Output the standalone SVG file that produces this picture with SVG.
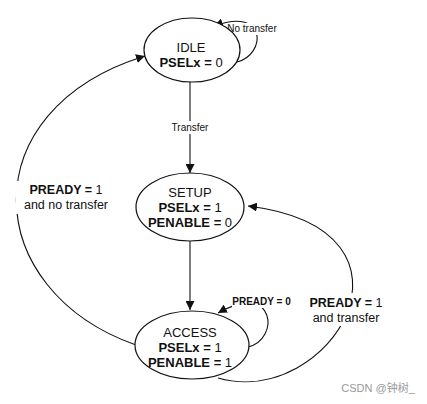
<svg xmlns="http://www.w3.org/2000/svg" width="427" height="404" viewBox="0 0 427 404">
<style>
.st{fill:#fff;stroke:#111;stroke-width:1.2}
.t{font-family:"Liberation Sans",Arial,sans-serif;font-size:13px;fill:#111;text-anchor:middle}
.l{font-family:"Liberation Sans",Arial,sans-serif;font-size:12.5px;fill:#111;text-anchor:middle}
.b{font-weight:bold}
.s{font-family:"Liberation Sans",Arial,sans-serif;font-size:10px;fill:#111;text-anchor:middle}
.c{fill:none;stroke:#111;stroke-width:1.1}
</style>
<defs>
<marker id="ah" viewBox="0 0 10 10" refX="10" refY="5" markerWidth="9" markerHeight="9" markerUnits="userSpaceOnUse" orient="auto">
<path d="M0,0 L10,5 L0,10 z" fill="#111"/>
</marker>
</defs>
<rect width="427" height="404" fill="#fff"/>
<g id="connectors">
<path class="c" d="M190,82 L190,173" marker-end="url(#ah)"/>
<path class="c" d="M190,241 L190,310" marker-end="url(#ah)"/>
<path class="c" d="M237,62 C266,55 268,6 214,26" marker-end="url(#ah)"/>
<path class="c" d="M248,347 C280,340 276,280 218,313" marker-end="url(#ah)"/>
<path class="c" d="M136,345 C-20,290 -30,110 145,56" marker-end="url(#ah)"/>
<path class="c" d="M218,378 C330,410 440,230 248,206" marker-end="url(#ah)"/>
<rect x="165" y="121" width="50" height="13" fill="#fff"/>
<text class="s" x="190" y="131">Transfer</text>
<rect x="228" y="23" width="49" height="12" fill="#fff"/>
<text class="s" x="252" y="32">No transfer</text>
<rect x="232" y="296" width="59" height="12" fill="#fff"/>
<text class="s b" x="261.5" y="305" font-size="9.7">PREADY = 0</text>
<rect x="16" y="181" width="100" height="33" fill="#fff"/>
<text class="l" x="66" y="194"><tspan class="b">PREADY =</tspan> 1</text>
<text class="l" x="66" y="209">and no transfer</text>
<rect x="305" y="293" width="84" height="33" fill="#fff"/>
<text class="l" x="346" y="307"><tspan class="b">PREADY =</tspan> 1</text>
<text class="l" x="346" y="322">and transfer</text>
</g>
<g id="idle">
<ellipse class="st" cx="192" cy="50" rx="48" ry="32"/>
<text class="t" x="191" y="52">IDLE</text>
<text class="t" x="191" y="67"><tspan class="b">PSELx =</tspan> 0</text>
</g>
<g id="setup">
<ellipse class="st" cx="190" cy="207" rx="54" ry="34"/>
<text class="t" x="190" y="197">SETUP</text>
<text class="t" x="190" y="212"><tspan class="b">PSELx =</tspan> 1</text>
<text class="t" x="190" y="227"><tspan class="b">PENABLE =</tspan> 0</text>
</g>
<g id="access">
<ellipse class="st" cx="192" cy="345" rx="57" ry="34"/>
<text class="t" x="190" y="337">ACCESS</text>
<text class="t" x="190" y="352"><tspan class="b">PSELx =</tspan> 1</text>
<text class="t" x="190" y="367"><tspan class="b">PENABLE =</tspan> 1</text>
</g>
<text x="378" y="392" font-family="'Liberation Sans','Noto Sans CJK SC',sans-serif" font-size="11" fill="#999" text-anchor="middle">CSDN @钟树_</text>
</svg>
